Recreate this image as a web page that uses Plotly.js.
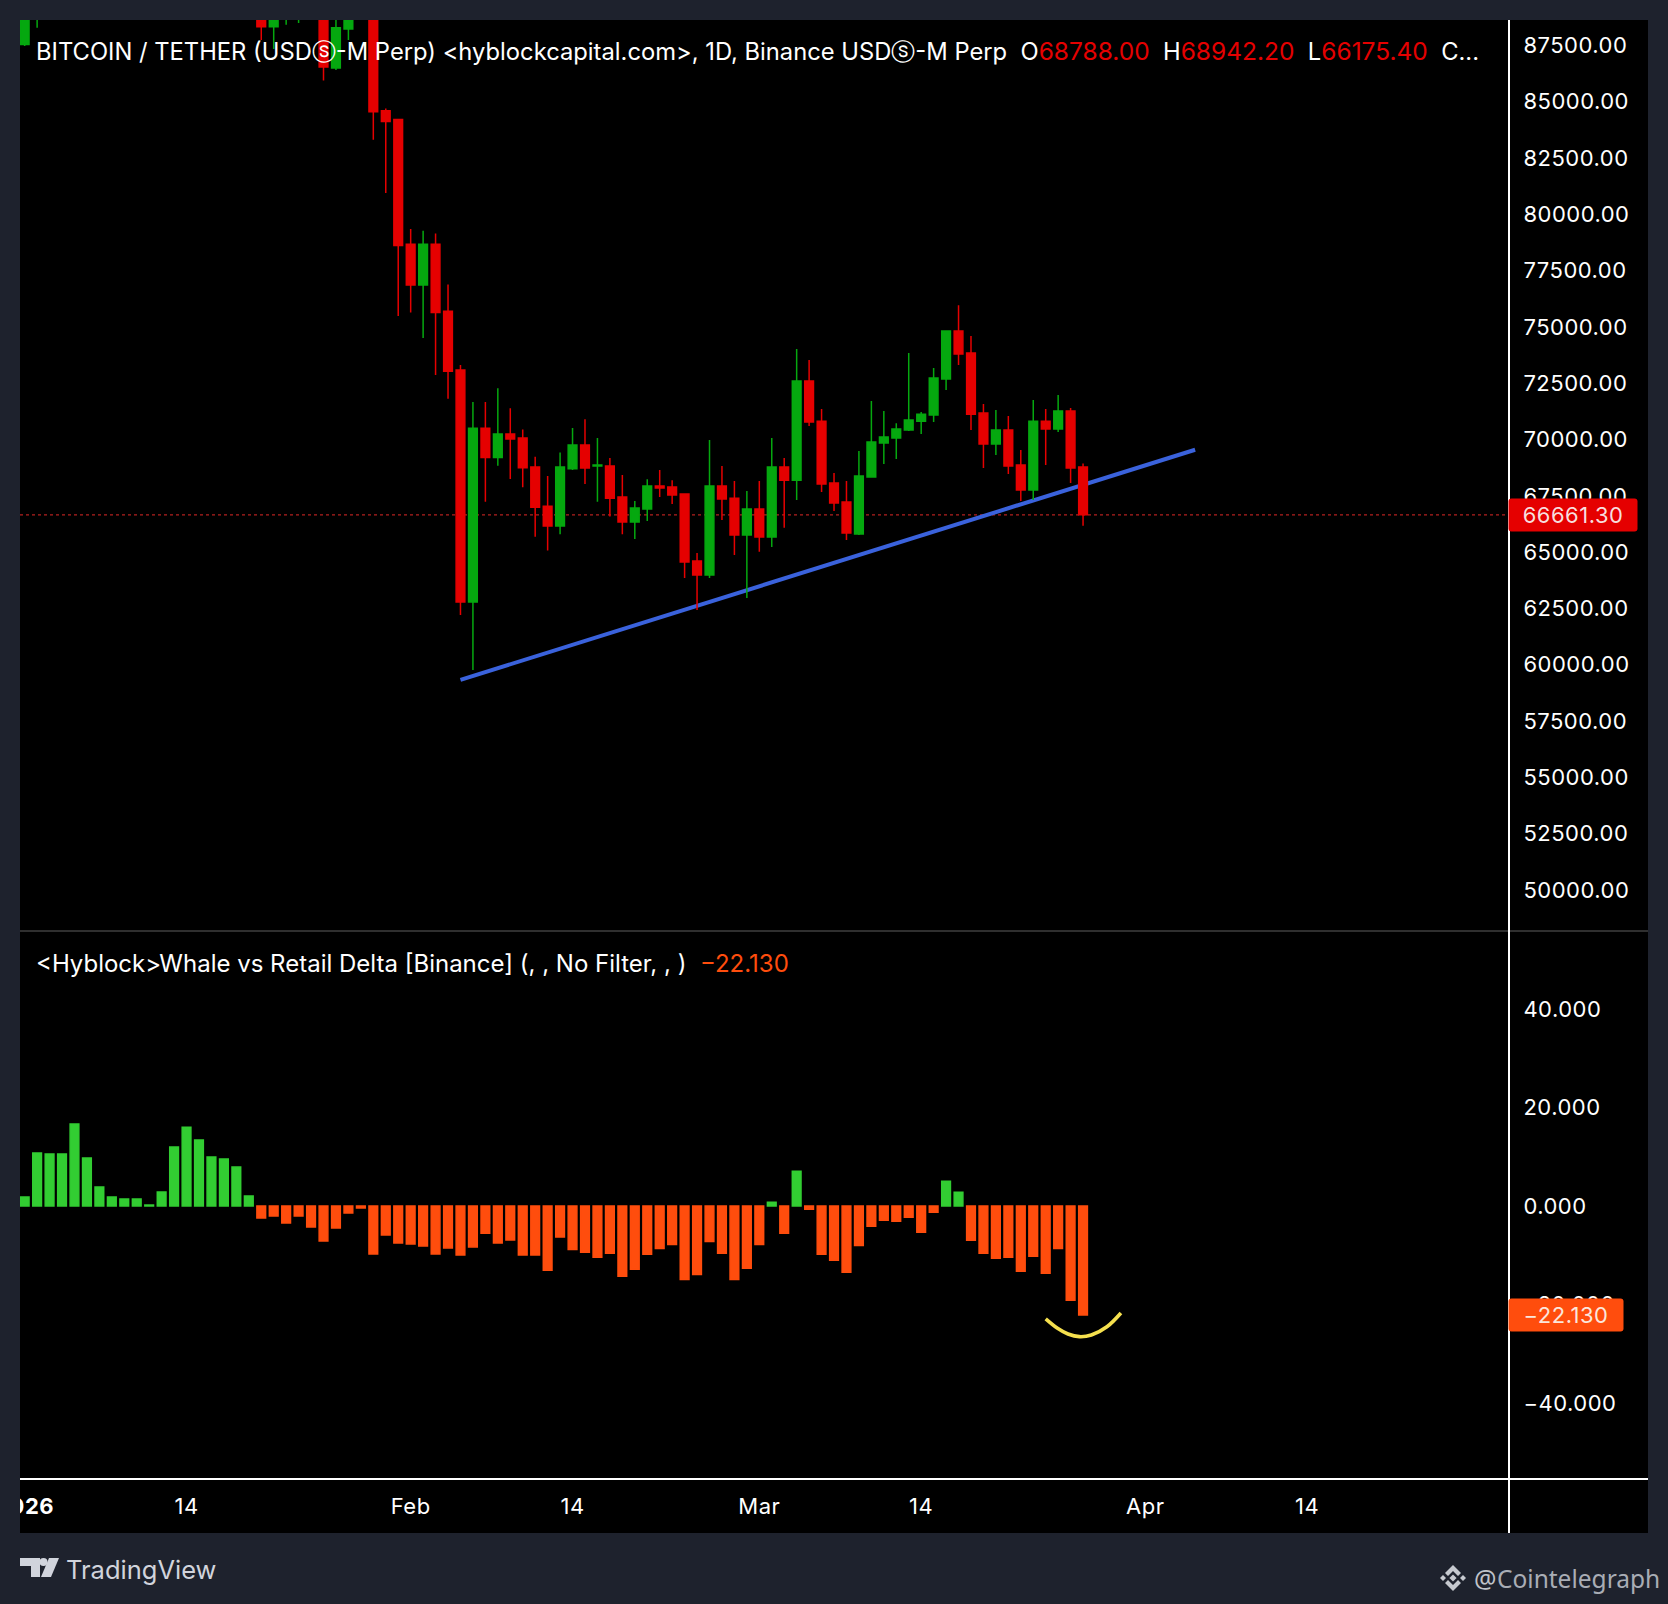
<!DOCTYPE html>
<html><head><meta charset="utf-8">
<script src="https://cdn.plot.ly/plotly-3.0.1.min.js"></script>
<style>html,body{margin:0;padding:0;background:#1e222d;overflow:hidden}#chart{width:1668px;height:1604px}
#edge{position:absolute;left:0;top:0;width:20px;height:1604px;background:#1e222d;pointer-events:none}
.xtick text,.ytick text,.y2tick text,.annotation[data-index="2"] text,.annotation[data-index="3"] text{letter-spacing:.5px}
.annotation rect.bg{rx:3px;ry:3px}</style>
</head><body><div id="chart"></div><div id="edge"></div>
<script>
const dates = ['2026-01-01','2026-01-02','2026-01-03','2026-01-04','2026-01-05','2026-01-06','2026-01-07','2026-01-08','2026-01-09','2026-01-10','2026-01-11','2026-01-12','2026-01-13','2026-01-14','2026-01-15','2026-01-16','2026-01-17','2026-01-18','2026-01-19','2026-01-20','2026-01-21','2026-01-22','2026-01-23','2026-01-24','2026-01-25','2026-01-26','2026-01-27','2026-01-28','2026-01-29','2026-01-30','2026-01-31',
'2026-02-01','2026-02-02','2026-02-03','2026-02-04','2026-02-05','2026-02-06','2026-02-07','2026-02-08','2026-02-09','2026-02-10','2026-02-11','2026-02-12','2026-02-13','2026-02-14','2026-02-15','2026-02-16','2026-02-17','2026-02-18','2026-02-19','2026-02-20','2026-02-21','2026-02-22','2026-02-23','2026-02-24','2026-02-25','2026-02-26','2026-02-27','2026-02-28',
'2026-03-01','2026-03-02','2026-03-03','2026-03-04','2026-03-05','2026-03-06','2026-03-07','2026-03-08','2026-03-09','2026-03-10','2026-03-11','2026-03-12','2026-03-13','2026-03-14','2026-03-15','2026-03-16','2026-03-17','2026-03-18','2026-03-19','2026-03-20','2026-03-21','2026-03-22','2026-03-23','2026-03-24','2026-03-25','2026-03-26','2026-03-27'];

const opens = [87540,89400,90600,90400,91500,93800,93700,91200,91000,90500,90400,90700,91300,95400,96900,95600,95500,95100,95100,92600,88330,89300,89600,89700,89200,86500,88230,89200,89300,84600,84210,
78675,76870,78675,75700,73090,62790,70500,69200,70250,70070,68780,67040,66160,68700,69760,68830,68830,67450,66340,66920,67940,67890,67580,64610,63990,67940,67400,65760,
66920,65670,68780,68200,72600,70820,68070,67230,65810,68340,69850,70070,70425,70820,71090,72690,74820,73840,71180,69800,70425,68870,67760,70820,70470,71270,68788];
const highs = [91000,91200,91200,91800,94500,94400,93800,91500,91900,90900,91400,92400,96000,97900,97200,95900,95600,95500,95100,92800,90400,90400,91000,89800,89300,88950,89400,90500,89500,84700,84250,
79350,79270,79150,76890,73310,71670,71670,72280,71390,70450,69240,68380,69430,70510,70900,70070,69180,68430,67270,68240,68650,68200,67620,64965,69980,68830,68160,67720,
68160,70070,69180,74020,73530,71360,68520,68160,69490,71710,71270,70730,73840,71220,73180,74820,75970,74600,71580,71310,71050,69540,71760,71360,71980,71400,68942.2];
const lows = [87480,88290,89500,90000,91300,91300,90900,89300,89700,90200,90000,90000,91000,94500,95000,94300,94900,94700,92400,87740,87340,88420,88500,89100,85950,86410,87740,88800,83315,80950,75490,
75640,74510,72870,71815,62210,59770,67240,68840,68250,67880,65690,65070,65800,68650,68030,67240,66580,65800,65590,66380,67450,67140,63850,62430,63850,66430,64875,62970,
65020,65230,66090,67320,70600,67670,66830,65540,65760,68340,68920,69140,70380,70250,70780,72200,73310,70425,68740,69320,68470,67270,67320,68870,70340,68070,66175.4];
const closes = [89900,90600,90400,91500,93800,93700,91200,91000,90500,90400,90700,91300,95400,96900,95600,95500,95100,95100,92600,88330,89800,89600,89700,89600,86540,88290,89200,89300,84560,84130,78620,
76870,78675,75640,73030,62790,70500,69200,70250,70025,68750,67000,66160,68780,69760,68740,68870,67400,66340,66960,67940,67850,67540,64570,63990,67940,67360,65760,66920,
65670,68780,68200,72600,70780,68030,67180,65850,68380,69890,70115,70470,70870,71130,72730,74820,73800,71130,69800,70425,68830,67760,70820,70470,71270,68740,66661.3];
const delta = [1.83,10.75,10.55,10.55,16.63,9.74,3.85,1.83,1.42,1.42,0.2,2.84,11.97,16.0,13.4,9.94,9.53,7.9,2.03,-2.43,-2.03,-3.45,-2.03,-4.26,-7.1,-4.46,-1.42,-0.4,-9.74,-5.88,-7.5,
-7.7,-8.1,-9.74,-8.5,-9.94,-8.3,-5.5,-7.5,-6.9,-9.94,-9.94,-13.05,-6.3,-8.8,-9.4,-10.4,-9.6,-14.27,-12.85,-9.8,-8.6,-7.8,-14.9,-13.9,-7.2,-9.6,-14.9,-12.64,
-7.8,0.74,-5.54,7.03,-0.68,-9.8,-11,-13.45,-8,-4.12,-2.9,-3.1,-2.3,-5.34,-1.28,5.0,2.77,-6.96,-9.6,-10.6,-10.4,-13.25,-10.2,-13.66,-8.6,-19.1,-22.13];

const trendDates = ['2026-02-05','2026-04-05'];
const trendPrices = [59330,69550];
const arcDates = ['2026-03-24 00:00','2026-03-24 22:00','2026-03-25 19:00','2026-03-26 17:00','2026-03-27 16:00','2026-03-28 22:00','2026-03-30 01:00'];
const arcValues = [-22.9,-24.75,-25.96,-26.5,-26.17,-24.5,-21.7];

const priceTicks = [87500,85000,82500,80000,77500,75000,72500,70000,67500,65000,62500,60000,57500,55000,52500,50000];
const deltaTicks = [40,20,0,-20,-40];
const timeTicks = ['2026-01-01','2026-01-14','2026-02-01','2026-02-14','2026-03-01','2026-03-14','2026-04-01','2026-04-14'];
const timeLabels = ['<b>2026</b>','14','Feb','14','Mar','14','Apr','14'];

const lastPrice = 66661.30, lastDelta = -22.13;
const headO = 68788.00, headH = 68942.20, headL = 66175.40;
const xRange = ['2025-12-31 15:00','2026-04-30 05:00'];
const priceRange = [48179,88632];
const deltaRange = [-55.37,55.78];

const W = 1668, H = 1604;
const RED = '#e50000', GREEN = '#05a80f', BARG = '#32cd32', BARO = '#ff4d0d', BG = '#1e222d', TXT = '#ffffff';
const UI = 'Inter, "Liberation Sans", sans-serif';
const px = x => x / W, py = y => 1 - y / H;
const poly = pts => 'M' + pts.map(p => px(p[0]) + ',' + py(p[1])).join('L') + 'Z';
const pshape = (path, color) => ({type:'path', xref:'paper', yref:'paper', path, fillcolor:color, line:{width:0}, layer:'above'});
const lineP = (x0,y0,x1,y1,color,w) => ({type:'line', xref:'paper', yref:'paper', x0:px(x0), x1:px(x1), y0:py(y0), y1:py(y1), line:{color, width:w}, layer:'above'});
const diamond = (cx,cy,r) => poly([[cx,cy-r],[cx+r,cy],[cx,cy+r],[cx-r,cy]]);
const LOGO = '#d1d4dc', MARK = '#c6c9cf';

const traces = [
 {type:'candlestick', x:dates, open:opens, high:highs, low:lows, close:closes, xaxis:'x', yaxis:'y', hoverinfo:'skip',
  increasing:{line:{color:GREEN,width:1.5}, fillcolor:GREEN}, decreasing:{line:{color:RED,width:1.5}, fillcolor:RED}, whiskerwidth:0, showlegend:false},
 {type:'bar', x:dates, y:delta, xaxis:'x', yaxis:'y2', hoverinfo:'skip', showlegend:false,
  marker:{color:delta.map(v => v >= 0 ? BARG : BARO), line:{color:delta.map(v => v >= 0 ? BARG : BARO), width:1.5}}},
 {type:'scatter', mode:'lines', x:arcDates, y:arcValues, xaxis:'x', yaxis:'y2', hoverinfo:'skip', showlegend:false,
  line:{color:'#f5e04e', width:3.6, shape:'spline'}}
];

const valStyle = 'color:'+RED+';font-size:24.5px';
const head = 'BITCOIN / TETHER (USD\u24E2-M Perp) &lt;hyblockcapital.com&gt;, 1D, Binance USD\u24E2-M Perp\u00A0\u00A0O<span style="'+valStyle+'">'+headO.toFixed(2)+'</span>\u00A0\u00A0H<span style="'+valStyle+'">'+headH.toFixed(2)+'</span>\u00A0\u00A0L<span style="'+valStyle+'">'+headL.toFixed(2)+'</span>\u00A0\u00A0C...';
const sub = '&lt;Hyblock&gt;Whale vs Retail Delta [Binance] (, , No Filter, , )\u00A0\u00A0<span style="color:'+BARO+'">\u2212'+Math.abs(lastDelta).toFixed(3)+'</span>';

const layout = {
 width:W, height:H, margin:{l:0,r:0,t:0,b:0,pad:0}, paper_bgcolor:BG, plot_bgcolor:'#000000', showlegend:false, bargap:0.3, boxgap:0.3, boxgroupgap:0, hovermode:false,
 font:{family:UI, color:TXT, size:22},
 xaxis:{domain:[px(20),px(1509)], range:xRange, type:'date', anchor:'y2', rangeslider:{visible:false}, showgrid:false, zeroline:false, showline:false,
   tickmode:'array', tickvals:timeTicks, ticktext:timeLabels, ticks:'outside', ticklen:8, tickcolor:'rgba(0,0,0,0)', tickfont:{family:UI,size:22,color:TXT}, ticklabeloverflow:'allow'},
 yaxis:{domain:[py(931),py(20)], range:priceRange, side:'right', anchor:'x', showgrid:false, zeroline:false, showline:false,
   tickmode:'array', tickvals:priceTicks, tickformat:'.2f', ticks:'outside', ticklen:9, tickcolor:'rgba(0,0,0,0)', tickfont:{family:UI,size:22,color:TXT}, ticklabeloverflow:'allow'},
 yaxis2:{domain:[py(1479),py(931)], range:deltaRange, side:'right', anchor:'x', showgrid:false, zeroline:false, showline:false,
   tickmode:'array', tickvals:deltaTicks, tickformat:'.3f', ticks:'outside', ticklen:9, tickcolor:'rgba(0,0,0,0)', tickfont:{family:UI,size:22,color:TXT}, ticklabeloverflow:'allow'},
 shapes:[
  {type:'rect', xref:'paper', yref:'paper', x0:px(20), x1:px(1648), y0:py(1533), y1:py(20), fillcolor:'#000000', line:{width:0}, layer:'below'},
  {type:'line', xref:'x', yref:'y', x0:xRange[0], x1:xRange[1], y0:lastPrice, y1:lastPrice, line:{color:'#b3201f', width:1.2, dash:'dot'}, layer:'below'},
  {type:'line', xref:'x', yref:'y', x0:trendDates[0], x1:trendDates[1], y0:trendPrices[0], y1:trendPrices[1], line:{color:'#3a62dc', width:4}, layer:'below'},
  lineP(20,931,1648,931,'#5f5f5f',1.2),
  lineP(1509,20,1509,1533,'#ffffff',2),
  lineP(20,1479,1648,1479,'#ffffff',2),
  pshape(poly([[20,1558],[40,1558],[40,1577],[31,1577],[31,1566],[20,1566]]),LOGO),
  {type:'circle', xref:'paper', yref:'paper', x0:px(39.5), x1:px(47.5), y0:py(1566), y1:py(1558), fillcolor:LOGO, line:{width:0}, layer:'above'},
  pshape(poly([[49,1558],[59,1558],[51,1577],[41,1577]]),LOGO),
  pshape(diamond(1453,1578,3.6),MARK),
  pshape(diamond(1443,1578,3),MARK),
  pshape(diamond(1463,1578,3),MARK),
  pshape(poly([[1453,1565],[1461,1573],[1458,1576],[1453,1571],[1448,1576],[1445,1573]]),MARK),
  pshape(poly([[1453,1591],[1461,1583],[1458,1580],[1453,1585],[1448,1580],[1445,1583]]),MARK)
 ],
 annotations:[
  {xref:'paper', yref:'paper', x:px(34), y:py(51.5), xanchor:'left', yanchor:'middle', showarrow:false, align:'left', text:head, font:{family:UI,size:23.75,color:TXT}},
  {xref:'paper', yref:'paper', x:px(34), y:py(963.5), xanchor:'left', yanchor:'middle', showarrow:false, align:'left', text:sub, font:{family:UI,size:24,color:TXT}},
  {xref:'paper', yref:'y', x:px(1508), y:lastPrice, xanchor:'left', yanchor:'middle', showarrow:false, width:128, height:32, align:'center', bgcolor:RED, borderpad:0, text:lastPrice.toFixed(2), font:{family:UI,size:22,color:'#f7dede'}},
  {xref:'paper', yref:'y2', x:px(1508), y:lastDelta, xanchor:'left', yanchor:'middle', showarrow:false, width:114, height:32, align:'center', bgcolor:BARO, borderpad:0, text:'\u2212'+Math.abs(lastDelta).toFixed(3), font:{family:UI,size:22,color:'#fbe6dc'}},
  {xref:'paper', yref:'paper', x:px(64), y:py(1569), xanchor:'left', yanchor:'middle', showarrow:false, text:'TradingView', font:{family:UI,size:25.5,color:LOGO}},
  {xref:'paper', yref:'paper', x:px(1472), y:py(1578), xanchor:'left', yanchor:'middle', showarrow:false, text:'@', font:{family:'"Noto Sans"',size:25,color:'#c0c3c9'}},
  {xref:'paper', yref:'paper', x:px(1495), y:py(1578), xanchor:'left', yanchor:'middle', showarrow:false, text:'Cointelegraph', font:{family:'"Noto Sans"',size:24.5,color:'#a9adb5'}}
 ]
};
Plotly.newPlot('chart', traces, layout, {staticPlot:true, displayModeBar:false});
</script></body></html>
